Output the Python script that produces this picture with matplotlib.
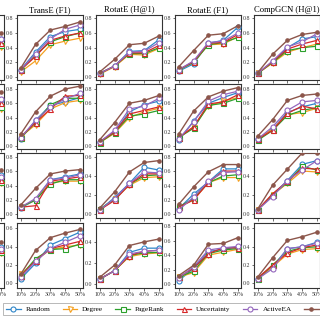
import matplotlib
matplotlib.use("Agg")
import matplotlib.pyplot as plt
from matplotlib.lines import Line2D

plt.rcParams['font.family'] = ['Liberation Serif', 'DejaVu Serif']

x_labels = ["10%", "20%", "30%", "40%", "50%"]
methods = ["Random", "Degree", "PageRank", "Uncertainty", "ActiveEA", "Ours"]
colors = ["#2f86c9", "#f5a020", "#2ca02c", "#d62728", "#9467bd", "#8c564b"]
markers = ["o", "v", "s", "^", "o", "o"]
titles = ["", "TransE (F1)", "RotatE (H@1)", "RotatE (F1)", "CompGCN (H@1)"]

# order of series in every panel: Random, Degree, PageRank, Uncertainty, ActiveEA, Ours
# hidden left column (only 40% and 50% visible)
r1_left = [[0.50, 0.52], [0.39, 0.41], [0.42, 0.44], [0.45, 0.47], [0.50, 0.52], [0.58, 0.60]]
r2_left = [[0.60, 0.64], [0.49, 0.52], [0.52, 0.55], [0.57, 0.60], [0.62, 0.66], [0.73, 0.76]]
r3_left = [[0.53, 0.55], [0.42, 0.44], [0.43, 0.45], [0.46, 0.48], [0.50, 0.52], [0.60, 0.62]]
r4_left = [[0.38, 0.40], [0.31, 0.33], [0.32, 0.34], [0.34, 0.36], [0.36, 0.38], [0.43, 0.45]]

r1_transe_f1 = [[0.10, 0.34, 0.55, 0.62, 0.65], [0.07, 0.22, 0.44, 0.49, 0.53],
                [0.09, 0.30, 0.48, 0.55, 0.60], [0.10, 0.28, 0.50, 0.56, 0.60],
                [0.10, 0.32, 0.52, 0.65, 0.71], [0.12, 0.445, 0.64, 0.69, 0.75]]
r1_rotate_h1 = [[0.05, 0.15, 0.35, 0.36, 0.51], [0.04, 0.14, 0.31, 0.30, 0.39],
                [0.05, 0.15, 0.32, 0.32, 0.40], [0.05, 0.15, 0.33, 0.33, 0.43],
                [0.05, 0.15, 0.34, 0.35, 0.47], [0.07, 0.24, 0.44, 0.46, 0.56]]
r1_rotate_f1 = [[0.08, 0.18, 0.46, 0.50, 0.68], [0.10, 0.20, 0.44, 0.45, 0.55],
                [0.10, 0.20, 0.44, 0.47, 0.54], [0.10, 0.21, 0.46, 0.47, 0.58],
                [0.10, 0.22, 0.47, 0.49, 0.60], [0.14, 0.36, 0.57, 0.59, 0.70]]
r1_compgcn_h1 = [[0.05, 0.20, 0.40, 0.52, 0.55], [0.05, 0.19, 0.34, 0.40, 0.45],
                 [0.05, 0.20, 0.36, 0.40, 0.42], [0.05, 0.21, 0.38, 0.45, 0.50],
                 [0.05, 0.22, 0.41, 0.48, 0.59], [0.06, 0.31, 0.50, 0.58, 0.61]]

r2_transe_f1 = [[0.10, 0.36, 0.57, 0.62, 0.68], [0.13, 0.30, 0.52, 0.61, 0.64],
                [0.12, 0.33, 0.58, 0.67, 0.67], [0.13, 0.33, 0.52, 0.70, 0.71],
                [0.12, 0.36, 0.55, 0.66, 0.74], [0.17, 0.48, 0.70, 0.80, 0.84]]
r2_rotate_h1 = [[0.06, 0.20, 0.48, 0.58, 0.63], [0.05, 0.18, 0.40, 0.48, 0.53],
                [0.05, 0.19, 0.42, 0.45, 0.50], [0.06, 0.20, 0.45, 0.50, 0.55],
                [0.06, 0.22, 0.52, 0.56, 0.67], [0.09, 0.33, 0.60, 0.64, 0.71]]
r2_rotate_f1 = [[0.08, 0.35, 0.60, 0.68, 0.75], [0.12, 0.27, 0.56, 0.63, 0.68],
                [0.12, 0.25, 0.57, 0.60, 0.67], [0.12, 0.27, 0.59, 0.62, 0.72],
                [0.10, 0.34, 0.63, 0.72, 0.77], [0.17, 0.49, 0.69, 0.77, 0.82]]
r2_compgcn_h1 = [[0.10, 0.24, 0.47, 0.55, 0.60], [0.10, 0.24, 0.44, 0.47, 0.53],
                 [0.08, 0.22, 0.43, 0.50, 0.54], [0.10, 0.22, 0.46, 0.56, 0.52],
                 [0.10, 0.27, 0.50, 0.62, 0.64], [0.14, 0.37, 0.64, 0.71, 0.73]]

r3_transe_f1 = [[0.09, 0.20, 0.48, 0.52, 0.56], [0.10, 0.20, 0.44, 0.46, 0.46],
                [0.10, 0.20, 0.42, 0.48, 0.48], [0.10, 0.12, 0.46, 0.49, 0.52],
                [0.10, 0.22, 0.48, 0.50, 0.55], [0.13, 0.36, 0.56, 0.60, 0.62]]
r3_rotate_h1 = [[0.04, 0.17, 0.32, 0.49, 0.46], [0.04, 0.15, 0.30, 0.38, 0.39],
                [0.05, 0.15, 0.31, 0.40, 0.41], [0.04, 0.14, 0.31, 0.42, 0.42],
                [0.04, 0.16, 0.32, 0.44, 0.43], [0.06, 0.23, 0.44, 0.54, 0.56]]
r3_rotate_f1 = [[0.08, 0.28, 0.45, 0.63, 0.63], [0.10, 0.20, 0.44, 0.51, 0.51],
                [0.10, 0.22, 0.44, 0.53, 0.55], [0.10, 0.20, 0.44, 0.60, 0.60],
                [0.06, 0.24, 0.46, 0.58, 0.59], [0.14, 0.38, 0.59, 0.69, 0.69]]
r3_compgcn_h1 = [[0.04, 0.20, 0.35, 0.52, 0.56], [0.04, 0.20, 0.32, 0.45, 0.44],
                 [0.04, 0.20, 0.33, 0.50, 0.46], [0.04, 0.21, 0.34, 0.48, 0.47],
                 [0.04, 0.18, 0.35, 0.46, 0.56], [0.05, 0.30, 0.47, 0.64, 0.64]]

r4_transe_f1 = [[0.05, 0.22, 0.42, 0.49, 0.56], [0.10, 0.25, 0.37, 0.40, 0.42],
                [0.08, 0.27, 0.37, 0.38, 0.43], [0.08, 0.25, 0.38, 0.42, 0.46],
                [0.07, 0.24, 0.38, 0.45, 0.52], [0.10, 0.36, 0.50, 0.55, 0.59]]
r4_rotate_h1 = [[0.045, 0.125, 0.30, 0.34, 0.34], [0.045, 0.125, 0.26, 0.285, 0.295],
                [0.045, 0.125, 0.27, 0.295, 0.30], [0.045, 0.125, 0.27, 0.31, 0.32],
                [0.045, 0.125, 0.285, 0.31, 0.32], [0.062, 0.178, 0.365, 0.40, 0.427]]
r4_rotate_f1 = [[0.05, 0.22, 0.45, 0.48, 0.51], [0.10, 0.16, 0.40, 0.44, 0.48],
                [0.10, 0.18, 0.42, 0.47, 0.49], [0.10, 0.22, 0.42, 0.50, 0.50],
                [0.09, 0.24, 0.47, 0.50, 0.52], [0.12, 0.26, 0.55, 0.56, 0.64]]
r4_compgcn_h1 = [[0.05, 0.18, 0.38, 0.40, 0.45], [0.05, 0.18, 0.32, 0.37, 0.38],
                 [0.05, 0.20, 0.35, 0.39, 0.40], [0.06, 0.20, 0.33, 0.39, 0.42],
                 [0.05, 0.16, 0.38, 0.40, 0.44], [0.07, 0.28, 0.47, 0.51, 0.56]]

grid = [
    [r1_left, r1_transe_f1, r1_rotate_h1, r1_rotate_f1, r1_compgcn_h1],
    [r2_left, r2_transe_f1, r2_rotate_h1, r2_rotate_f1, r2_compgcn_h1],
    [r3_left, r3_transe_f1, r3_rotate_h1, r3_rotate_f1, r3_compgcn_h1],
    [r4_left, r4_transe_f1, r4_rotate_h1, r4_rotate_f1, r4_compgcn_h1],
]
ylims = [
    [(-0.04, 0.845)] * 5,
    [(-0.04, 0.87)] * 5,
    [(-0.05, 0.85), (-0.05, 0.85), (-0.045, 0.64), (-0.05, 0.85), (-0.045, 0.64)],
    [(-0.05, 0.66), (-0.05, 0.66), (-0.04, 0.58), (-0.05, 0.84), (-0.05, 0.66)],
]

W = H = 320
fig = plt.figure(figsize=(3.2, 3.2), dpi=100)
col_left = [-62, 17, 96, 175, 254]
row_top = [15, 84, 153, 223]
aw, ah = 66, 65

for r in range(4):
    for c in range(5):
        ax = fig.add_axes([col_left[c] / W, 1 - (row_top[r] + ah) / H, aw / W, ah / H])
        panel = grid[r][c]
        for k, series in enumerate(panel):
            xs = list(range(5 - len(series), 5))
            if k == 5:
                ax.plot(xs, series, color=colors[k], marker=markers[k], ms=2.3,
                        mfc=colors[k], mec=colors[k], lw=1.0, zorder=5)
            else:
                ax.plot(xs, series, color=colors[k], marker=markers[k], ms=3.6,
                        mfc="white", mec=colors[k], mew=0.8, lw=0.9, zorder=3 + k * 0.1)
        ax.set_xlim(-0.25, 4.2)
        lo, hi = ylims[r][c]
        ax.set_ylim(lo, hi)
        ticks = [t / 10 for t in range(0, 10, 2) if t / 10 <= hi]
        ax.set_yticks(ticks)
        ax.set_yticklabels([f"{t:.1f}" for t in ticks])
        ax.set_xticks(range(5))
        if r == 3:
            ax.set_xticklabels(x_labels)
        else:
            ax.set_xticklabels([])
            ax.tick_params(axis="x", length=0)
        ax.tick_params(labelsize=4.2, length=1.8, width=0.5, pad=1.2, colors="#333333")
        for sp in ax.spines.values():
            sp.set_linewidth(0.8)
            sp.set_color("#333333")
        if r == 0 and titles[c]:
            ax.set_title(titles[c], fontsize=6.2, pad=2.0)

handles = []
for k in range(6):
    if k == 5:
        h = Line2D([], [], color=colors[k], marker=markers[k], ms=2.3, mfc=colors[k], lw=1.0)
    else:
        h = Line2D([], [], color=colors[k], marker=markers[k], ms=3.6, mfc="white",
                   mec=colors[k], mew=0.8, lw=0.9)
    handles.append(h)
leg = fig.legend(handles, methods, loc="upper left", bbox_to_anchor=(1 / W, 1 - 301 / H),
                 ncol=6, fontsize=5.2, frameon=True, handlelength=2.0, columnspacing=1.7,
                 handletextpad=0.7, borderpad=0.4, borderaxespad=0.3, fancybox=False)
leg.get_frame().set_edgecolor("#999999")
leg.get_frame().set_linewidth(0.6)

fig.savefig("out.png", dpi=100)
